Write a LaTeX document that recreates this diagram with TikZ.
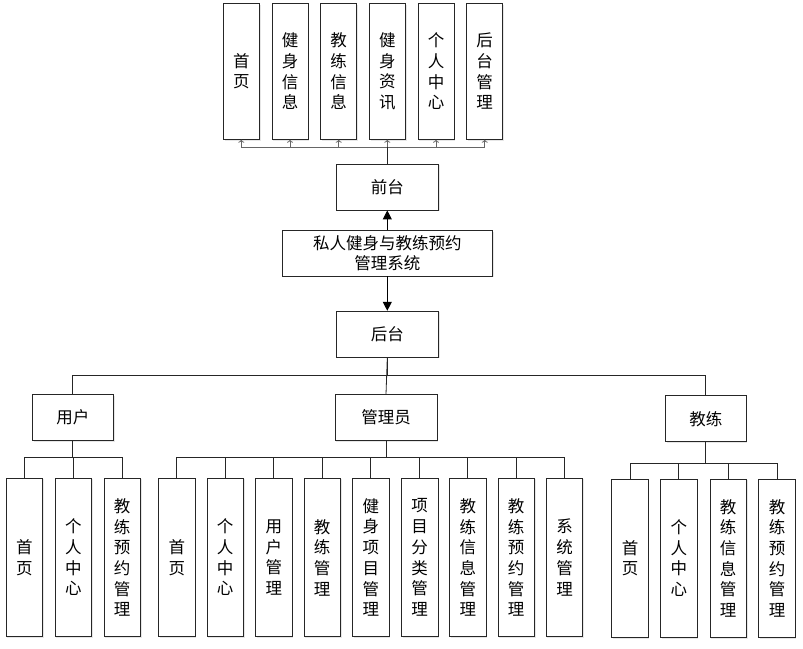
\documentclass[tikz,border=0pt]{standalone}
\usepackage{fontspec}
\newfontfamily\cjk{Noto Sans CJK SC}
\usetikzlibrary{arrows.meta,shadows}
\begin{document}
\begin{tikzpicture}[x=1pt,y=-1pt,
  every node/.style={font=\cjk\fontsize{16.5}{20.7}\selectfont, inner sep=0pt, align=center},
  boxbase/.style={draw=black!85, line width=0.8pt, fill=white, drop shadow={opacity=0.2, shadow xshift=1.2pt, shadow yshift=-1.2pt}},
  topbox/.style={boxbase, minimum width=36pt, minimum height=136pt},
  leafbox/.style={boxbase, minimum width=36.5pt, minimum height=158.5pt},
  midbox/.style={boxbase, minimum width=102pt, minimum height=46pt},
  sysbox/.style={boxbase, minimum width=210.5pt, minimum height=45.5pt},
  link/.style={line width=0.8pt, draw=black!85},
  smallarrow/.style={link, draw=black!60, -{To[length=3pt,width=6pt]}},
  bigarrow/.style={line width=1pt, -{Triangle[length=9pt,width=9pt]}}
]
\useasboundingbox (0,0) rectangle (803,648);

% top level
\node[topbox] (t1) at (241.3,71.3) {首\\页};
\node[topbox] (t2) at (290,71.3) {健\\身\\信\\息};
\node[topbox] (t3) at (338.7,71.3) {教\\练\\信\\息};
\node[topbox] (t4) at (387.3,71.3) {健\\身\\资\\讯};
\node[topbox] (t5) at (436,71.3) {个\\人\\中\\心};
\node[topbox] (t6) at (484.7,71.3) {后\\台\\管\\理};

\node[midbox] (front) at (387.3,187) {前台};
\node[sysbox] (sys) at (387.3,253.3) {私人健身与教练预约\\管理系统};
\node[midbox] (back) at (387.3,334.2) {后台};

\node[midbox, minimum width=81pt] (user) at (72.8,417.7) {用户};
\node[midbox] (admin) at (386,417.7) {管理员};
\node[midbox, minimum width=80.5pt] (coach) at (705.8,418.8) {教练};

% user leaves
\node[leafbox] (u1) at (24.3,557.5) {首\\页};
\node[leafbox] (u2) at (73.3,557.5) {个\\人\\中\\心};
\node[leafbox] (u3) at (122.2,557.5) {教\\练\\预\\约\\管\\理};

% admin leaves
\node[leafbox] (a1) at (176.8,557.5) {首\\页};
\node[leafbox] (a2) at (225.2,557.5) {个\\人\\中\\心};
\node[leafbox] (a3) at (273.8,557.5) {用\\户\\管\\理};
\node[leafbox] (a4) at (322.2,557.5) {教\\练\\管\\理};
\node[leafbox] (a5) at (370.8,557.5) {健\\身\\项\\目\\管\\理};
\node[leafbox] (a6) at (419.7,557.5) {项\\目\\分\\类\\管\\理};
\node[leafbox] (a7) at (467.8,557.5) {教\\练\\信\\息\\管\\理};
\node[leafbox] (a8) at (516.2,557.5) {教\\练\\预\\约\\管\\理};
\node[leafbox] (a9) at (564.5,557.5) {系\\统\\管\\理};

% coach leaves
\node[leafbox] (c1) at (630,558.2) {首\\页};
\node[leafbox] (c2) at (678.8,558.2) {个\\人\\中\\心};
\node[leafbox] (c3) at (728.2,558.2) {教\\练\\信\\息\\管\\理};
\node[leafbox] (c4) at (777,558.2) {教\\练\\预\\约\\管\\理};

% connectors top
\foreach \t in {t1,t2,t3,t4,t5,t6}
  \draw[smallarrow] (front.north) -- ++(0,-16.7) -| (\t.south);
\draw[link, line width=1pt] (front.north) -- ++(0,-16.7);

\draw[bigarrow] (sys.north) -- (front.south);
\draw[bigarrow] (sys.south) -- (back.north);

\draw[link] (back.south) -- ++(0,17.8) -| (user.north);
\draw[link] (back.south) -- ++(0,17.8) -| (coach.north);
\draw[link] (back.south) -- (admin.north);

\foreach \u in {u1,u2,u3}
  \draw[link] (user.south) -- ++(0,16.6) -| (\u.north);
\foreach \a in {a1,a2,a3,a4,a5,a6,a7,a8,a9}
  \draw[link] (admin.south) -- ++(0,16.6) -| (\a.north);
\foreach \c in {c1,c2,c3,c4}
  \draw[link] (coach.south) -- ++(0,21) -| (\c.north);
\end{tikzpicture}
\end{document}
